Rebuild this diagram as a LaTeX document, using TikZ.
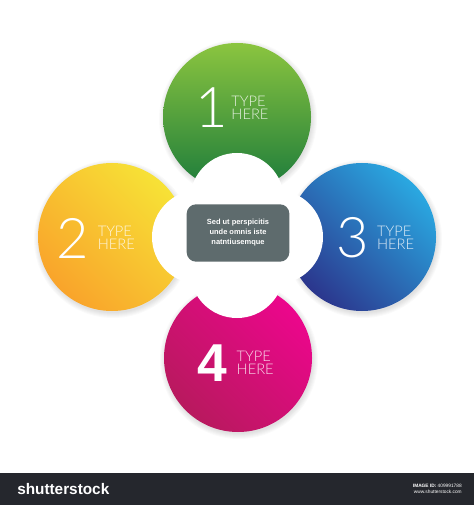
\documentclass[tikz,border=0pt]{standalone}
\usepackage{fontspec}
\setmainfont{Liberation Sans}
\IfFontExistsTF{Lato Light}
	{\newfontfamily\thinfont{Lato Light}}
	{\IfFontExistsTF{DejaVu Sans ExtraLight}
		{\newfontfamily\thinfont{DejaVu Sans ExtraLight}}
		{\newfontfamily\thinfont{Liberation Sans}}}
\newfontfamily\heavyfont{Liberation Sans}
\usetikzlibrary{positioning}
\definecolor{greenlight}{HTML}{8BC53F}
\definecolor{greendark}{HTML}{1B7B3B}
\definecolor{yellowlight}{HTML}{F7E236}
\definecolor{yellowdark}{HTML}{F9A42B}
\definecolor{bluelight}{HTML}{2AA8E1}
\definecolor{bluedark}{HTML}{2B368D}
\definecolor{pinklight}{HTML}{EC068C}
\definecolor{pinkdark}{HTML}{B8195E}
\definecolor{boxgray}{HTML}{5E6B6D}
\definecolor{footerblack}{HTML}{25272D}

\begin{document}
\begin{tikzpicture}
			[
				x = 0.75pt, y = -0.75pt,
				mybite/.style = {fill = white},
				myshadow/.style = {fill = black, opacity = 0.018},
				mynumber/.style = {text = white, inner sep = 0pt, font = \thinfont\fontsize{42}{42}\selectfont},
				mycaption/.style = {text = white, text opacity = 0.85, align = left, inner sep = 0pt, font = \thinfont\fontsize{11}{10}\selectfont},
				mybox/.style = {fill = boxgray, rounded corners = 7pt, minimum width = 77pt, minimum height = 43pt, text = white, align = center, inner sep = 0pt, font = \bfseries\fontsize{5.6}{7.5}\selectfont}
			]
			%
			\useasboundingbox (0,0) rectangle (474,505);
			\fill [white] (0,0) rectangle (474,505);
			%
			\coordinate (middle) at (237,237);
			\coordinate (c1) at (237,117);
			\coordinate (c2) at (112,237);
			\coordinate (c3) at (362,237);
			\coordinate (c4) at (238,358);
			%
			% soft shadows
			\foreach \c in {c1,c2,c3,c4}
				\foreach \k in {1,...,6}
					\fill [myshadow] ([shift = {(1,2)}]\c) circle (73 + \k);
			%
			\shade [top color = greenlight, bottom color = greendark] (c1) circle (74);
			\shade [top color = yellowlight, bottom color = yellowdark, shading angle = -45] (c2) circle (74);
			\shade [top color = bluelight, bottom color = bluedark, shading angle = -45] (c3) circle (74);
			\shade [top color = pinklight, bottom color = pinkdark, shading angle = -45] (c4) circle (74);
			%
			% white flower in the middle
			\fill [mybite] ([shift = {(0,-37)}]middle) circle (47);
			\fill [mybite] ([shift = {(0,34)}]middle) circle (47);
			\fill [mybite] ([shift = {(-38,0)}]middle) circle (47);
			\fill [mybite] ([shift = {(39,0)}]middle) circle (47);
			%
			\node (box) [mybox] at (238,233) {Sed ut perspicitis\\unde omnis iste\\natntiusemque};
			%
			\node (one) [mynumber] at (212,108) {1};
			\node (onetext) [mycaption, right = 2pt of one] {TYPE\\HERE};
			%
			\node (two) [mynumber] at (73,238) {2};
			\node (twotext) [mycaption, right = 6pt of two] {TYPE\\HERE};
			%
			\node (three) [mynumber] at (353,238) {3};
			\node (threetext) [mycaption, right = 5.5pt of three] {TYPE\\HERE};
			%
			\node (four) [mynumber, font = \heavyfont\bfseries\fontsize{40}{40}\selectfont] at (212,363) {4};
			\node (fourtext) [mycaption, right = 7pt of four] {TYPE\\HERE};
			%
			% footer bar
			\fill [footerblack] (0,473) rectangle (474,505);
			\node (brand) [anchor = west, text = white, inner sep = 0pt, font = \bfseries\fontsize{11.5}{12}\selectfont] at (17,489) {shutterstock};
			\node (imageid) [anchor = east, text = white, inner sep = 0pt, align = right, font = \fontsize{3.6}{5}\selectfont] at (462,489) {\textbf{IMAGE ID:} 409991788\\www.shutterstock.com};
			%
		\end{tikzpicture}
\end{document}
